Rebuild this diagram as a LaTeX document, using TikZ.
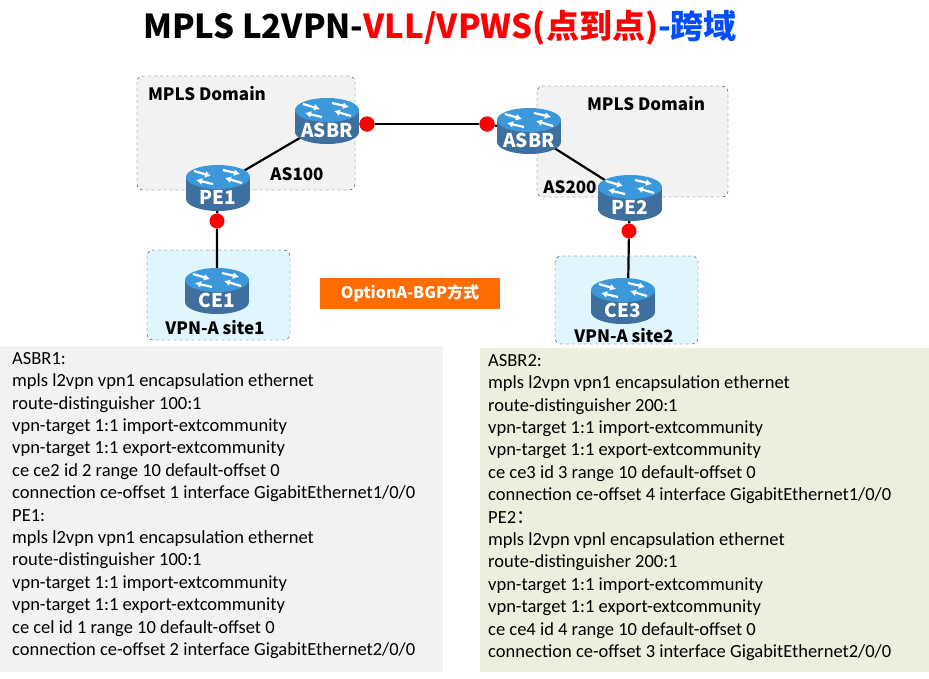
\documentclass[tikz,border=0pt]{standalone}
\usepackage{fontspec}
\setmainfont{Carlito}
\newfontfamily\cjk{Noto Sans CJK SC}
\usetikzlibrary{arrows.meta}
\definecolor{grn}{HTML}{EBF0DE}
\begin{document}
\begin{tikzpicture}[x=1pt,y=-1pt,
  dom/.style={draw=black!80,dashed,fill=black!5,rounded corners=6pt},
  site/.style={draw=black!80,dashed,fill=cyan!12,rounded corners=6pt},
  dot/.style={circle,fill=red,inner sep=0pt,minimum size=15pt},
  lbl/.style={font=\cjk\bfseries\fontsize{17}{19}\selectfont},
  link/.style={line width=2.2pt},
  cfg/.style={anchor=north west,align=left,inner sep=0pt,font=\fontsize{18.5}{22.4}\selectfont},
  router/.pic={
    \fill[cyan!60!blue!70!black] (-32,0) rectangle (32,22);
    \fill[cyan!60!blue!70!black] (0,22) ellipse [x radius=32,y radius=12];
    \fill[cyan!70!blue!80!white] (0,0) ellipse [x radius=32,y radius=12];
    \begin{scope}[white,line width=2.2pt,-{Latex[length=6pt,width=7pt]}]
      \draw (-24,-6) -- (-7,-1); \draw (24,6) -- (7,1);
      \draw (5,-7) -- (22,-3); \draw (-5,7) -- (-22,3);
    \end{scope}
    \node[white,font=\cjk\bfseries\fontsize{19}{19}\selectfont] at (0,20) {#1};
    \coordinate (-c) at (0,10);
  }]
\useasboundingbox (0,0) rectangle (929,678);
% title
\node[font=\cjk\bfseries\fontsize{33}{35}\selectfont] (title) at (440,28)
  {MPLS L2VPN-\textcolor{red}{VLL/VPWS(点到点)}\textcolor{blue!70!cyan}{-跨域}};
% domains
\draw[dom] (137,76) rectangle (355,190);
\draw[dom] (537,86) rectangle (728,197);
\draw[site] (147,250) rectangle (290,340);
\draw[site] (555,256) rectangle (698,344);
\node[lbl] (md1) at (207,94) {MPLS Domain};
\node[lbl] (as1) at (297,174) {AS100};
\node[lbl] (md2) at (646,104) {MPLS Domain};
\node[lbl] (as2) at (570,187) {AS200};
\node[lbl] (s1) at (215,328) {VPN-A site1};
\node[lbl] (s2) at (624,336) {VPN-A site2};
% dots
\node[dot] (d1) at (367,124) {};
\node[dot] (d2) at (487,124) {};
\node[dot] (d3) at (217,221) {};
\node[dot] (d4) at (629,231) {};
% connectors
\coordinate (a1) at (327,122);
\coordinate (a2) at (529,132);
\coordinate (p1) at (218,186);
\coordinate (p2) at (630,196);
\coordinate (c1) at (217,285);
\coordinate (c3) at (628,295);
\draw[link] (d1) -- (d2);
\draw[link] (a1) -- (p1);
\draw[link] (a2) -- (p2);
\draw[link] (p1) -- (d3) -- (c1);
\draw[link] (p2) -- (d4) -- (c3);
\draw[link] (a1) -- (d1); \draw[link] (a2) -- (d2);
% routers
\pic (asbr1) at (327,110) {router=ASBR};
\pic (asbr2) at (529,120) {router=ASBR};
\pic (pe1) at (218,177) {router=PE1};
\pic (pe2) at (630,187) {router=PE2};
\pic (ce1) at (217,280) {router=CE1};
\pic (ce3) at (623,290) {router=CE3};
\node[dot] at (367,124) {};
\node[dot] at (487,124) {};
% option box
\node[fill=orange!85!red,text=white,font=\cjk\bfseries\fontsize{16}{18}\selectfont,minimum width=180pt,minimum height=31pt] (opt) at (410,293) {OptionA-BGP方式};
% config boxes
\fill[black!5] (0,346) rectangle (443,672);
\fill[grn] (480,348) rectangle (929,672);
\node[cfg] (cfg1) at (12,352) {ASBR1:\\
mpls l2vpn vpn1 encapsulation ethernet\\
route-distinguisher 100:1\\
vpn-target 1:1 import-extcommunity\\
vpn-target 1:1 export-extcommunity\\
ce ce2 id 2 range 10 default-offset 0\\
connection ce-offset 1 interface GigabitEthernet1/0/0\\
PE1:\\
mpls l2vpn vpn1 encapsulation ethernet\\
route-distinguisher 100:1\\
vpn-target 1:1 import-extcommunity\\
vpn-target 1:1 export-extcommunity\\
ce cel id 1 range 10 default-offset 0\\
connection ce-offset 2 interface GigabitEthernet2/0/0};
\node[cfg] (cfg2) at (488,354) {ASBR2:\\
mpls l2vpn vpn1 encapsulation ethernet\\
route-distinguisher 200:1\\
vpn-target 1:1 import-extcommunity\\
vpn-target 1:1 export-extcommunity\\
ce ce3 id 3 range 10 default-offset 0\\
connection ce-offset 4 interface GigabitEthernet1/0/0\\
PE2{\cjk ：}\\
mpls l2vpn vpnl encapsulation ethernet\\
route-distinguisher 200:1\\
vpn-target 1:1 import-extcommunity\\
vpn-target 1:1 export-extcommunity\\
ce ce4 id 4 range 10 default-offset 0\\
connection ce-offset 3 interface GigabitEthernet2/0/0};
\end{tikzpicture}
\end{document}
